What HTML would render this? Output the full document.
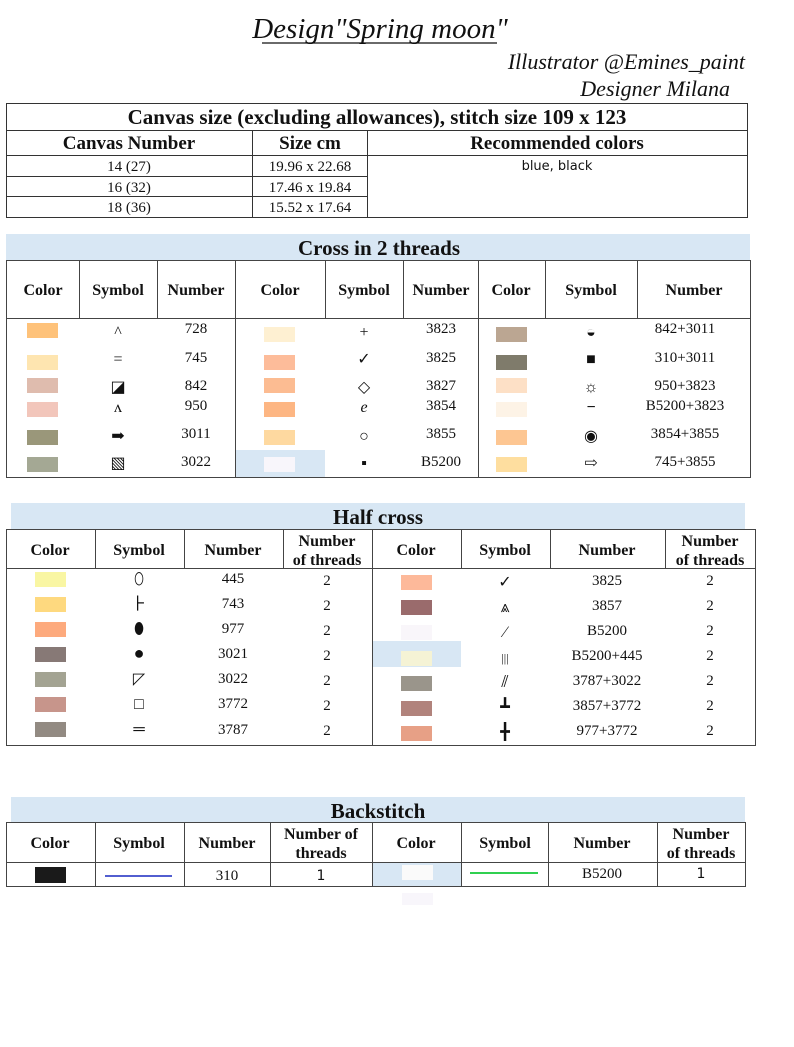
<!DOCTYPE html>
<html><head><meta charset="utf-8"><style>
html,body{margin:0;padding:0;background:#fff;}
svg{display:block;}
text{font-family:"Liberation Serif","DejaVu Serif",serif;fill:#111;}
.s{font-family:"DejaVu Sans",sans-serif;}
.h{font-weight:bold;}
</style></head><body>
<svg width="794" height="1047" viewBox="0 0 794 1047" xmlns="http://www.w3.org/2000/svg">
<text x="380" y="38" font-size="29" font-style="italic" text-anchor="middle">Design"Spring moon"</text>
<line x1="262" y1="43" x2="497" y2="43" stroke="#111" stroke-width="1.3"/>
<text x="745" y="69" font-size="22" font-style="italic" text-anchor="end">Illustrator  @Emines_paint</text>
<text x="730" y="96" font-size="22" font-style="italic" text-anchor="end">Designer Milana</text>

<g stroke="#333" stroke-width="1" fill="none">
<rect x="6.5" y="103.5" width="741" height="114"/>
<line x1="6" y1="130.5" x2="747" y2="130.5"/>
<line x1="6" y1="155.5" x2="747" y2="155.5"/>
<line x1="6" y1="176.5" x2="367" y2="176.5"/>
<line x1="6" y1="196.5" x2="367" y2="196.5"/>
<line x1="252.5" y1="130" x2="252.5" y2="217"/>
<line x1="367.5" y1="130" x2="367.5" y2="217"/>
</g>
<text x="377" y="124" font-size="21" class="h" text-anchor="middle">Canvas size (excluding allowances), stitch size 109 x 123</text>
<text x="129" y="149" font-size="19" class="h" text-anchor="middle">Canvas Number</text>
<text x="310" y="149" font-size="19" class="h" text-anchor="middle">Size cm</text>
<text x="557" y="149" font-size="19" class="h" text-anchor="middle">Recommended colors</text>
<text x="557" y="170" font-size="13" class="s" text-anchor="middle">blue, black</text>
<g font-size="15" text-anchor="middle">
<text x="129" y="171">14 (27)</text><text x="310" y="171">19.96 x 22.68</text>
<text x="129" y="192">16 (32)</text><text x="310" y="192">17.46 x 19.84</text>
<text x="129" y="212">18 (36)</text><text x="310" y="212">15.52 x 17.64</text>
</g>

<rect x="6" y="234" width="744" height="26" fill="#d8e7f4"/>
<text x="379" y="255" font-size="21" class="h" text-anchor="middle">Cross in 2 threads</text>
<rect x="235" y="450" width="90" height="28" fill="#d8e7f4"/>
<g stroke="#444" stroke-width="1" fill="none">
<rect x="6.5" y="260.5" width="744" height="217"/>
<line x1="6" y1="318.5" x2="751" y2="318.5"/>
<line x1="79.5" y1="260" x2="79.5" y2="318"/>
<line x1="157.5" y1="260" x2="157.5" y2="318"/>
<line x1="235.5" y1="260" x2="235.5" y2="478"/>
<line x1="325.5" y1="260" x2="325.5" y2="318"/>
<line x1="403.5" y1="260" x2="403.5" y2="318"/>
<line x1="478.5" y1="260" x2="478.5" y2="478"/>
<line x1="545.5" y1="260" x2="545.5" y2="318"/>
<line x1="637.5" y1="260" x2="637.5" y2="318"/>
</g>
<g font-size="16" class="h" text-anchor="middle">
<text x="43" y="295">Color</text><text x="118" y="295">Symbol</text><text x="196" y="295">Number</text>
<text x="280" y="295">Color</text><text x="364" y="295">Symbol</text><text x="441" y="295">Number</text>
<text x="511" y="295">Color</text><text x="591" y="295">Symbol</text><text x="694" y="295">Number</text>
</g>
<g>
<rect x="27" y="323" width="31" height="15" fill="#fec27a"/>
<rect x="27" y="355" width="31" height="15" fill="#fee5b0"/>
<rect x="27" y="378" width="31" height="15" fill="#dfbcae"/>
<rect x="27" y="402" width="31" height="15" fill="#f2c6bb"/>
<rect x="27" y="430" width="31" height="15" fill="#9a977a"/>
<rect x="27" y="457" width="31" height="15" fill="#a4a894"/>
<rect x="264" y="327" width="31" height="15" fill="#fef0d2"/>
<rect x="264" y="355" width="31" height="15" fill="#fdbc9a"/>
<rect x="264" y="378" width="31" height="15" fill="#fcbc92"/>
<rect x="264" y="402" width="31" height="15" fill="#fdb683"/>
<rect x="264" y="430" width="31" height="15" fill="#fed9a0"/>
<rect x="264" y="457" width="31" height="15" fill="#f8f6fb"/>
<rect x="496" y="327" width="31" height="15" fill="#bba692"/>
<rect x="496" y="355" width="31" height="15" fill="#7f7b6b"/>
<rect x="496" y="378" width="31" height="15" fill="#fde0c6"/>
<rect x="496" y="402" width="31" height="15" fill="#fdf3e6"/>
<rect x="496" y="430" width="31" height="15" fill="#fdc692"/>
<rect x="496" y="457" width="31" height="15" fill="#fede9f"/>
</g>
<g font-size="16" class="s" text-anchor="middle">
<text x="118" y="337">^</text><text x="118" y="364">=</text><text x="118" y="392">◪</text><text x="118" y="412">ʌ</text><text x="118" y="441" font-weight="bold">➡</text><text x="118" y="468">▧</text>
<text x="364" y="337">+</text><text x="364" y="364">✓</text><text x="364" y="392">◇</text><text x="364" y="412" font-style="italic">e</text><text x="364" y="441">○</text><text x="364" y="468">▪</text>
<text x="591" y="337">◒</text><text x="591" y="364">■</text><text x="591" y="392">☼</text><text x="591" y="412" font-weight="bold">−</text><text x="591" y="441">◉</text><text x="591" y="468">⇨</text>
</g>
<g font-size="15" text-anchor="middle">
<text x="196" y="333">728</text><text x="196" y="362">745</text><text x="196" y="390">842</text><text x="196" y="410">950</text><text x="196" y="438">3011</text><text x="196" y="466">3022</text>
<text x="441" y="333">3823</text><text x="441" y="362">3825</text><text x="441" y="390">3827</text><text x="441" y="410">3854</text><text x="441" y="438">3855</text><text x="441" y="466">B5200</text>
<text x="685" y="333">842+3011</text><text x="685" y="362">310+3011</text><text x="685" y="390">950+3823</text><text x="685" y="410">B5200+3823</text><text x="685" y="438">3854+3855</text><text x="685" y="466">745+3855</text>
</g>

<rect x="11" y="503" width="734" height="26" fill="#d8e7f4"/>
<text x="378" y="524" font-size="21" class="h" text-anchor="middle">Half cross</text>
<rect x="372" y="641" width="89" height="26" fill="#d8e7f4"/>
<g stroke="#444" stroke-width="1" fill="none">
<rect x="6.5" y="529.5" width="749" height="216"/>
<line x1="6" y1="568.5" x2="755" y2="568.5"/>
<line x1="95.5" y1="529" x2="95.5" y2="568"/>
<line x1="184.5" y1="529" x2="184.5" y2="568"/>
<line x1="283.5" y1="529" x2="283.5" y2="568"/>
<line x1="372.5" y1="529" x2="372.5" y2="745"/>
<line x1="461.5" y1="529" x2="461.5" y2="568"/>
<line x1="550.5" y1="529" x2="550.5" y2="568"/>
<line x1="665.5" y1="529" x2="665.5" y2="568"/>
</g>
<g font-size="16" class="h" text-anchor="middle">
<text x="50" y="555">Color</text><text x="139" y="555">Symbol</text><text x="233" y="555">Number</text>
<text x="327" y="546">Number</text><text x="327" y="565">of threads</text>
<text x="416" y="555">Color</text><text x="505" y="555">Symbol</text><text x="607" y="555">Number</text>
<text x="710" y="546">Number</text><text x="710" y="565">of threads</text>
</g>
<g>
<rect x="35" y="572" width="31" height="15" fill="#f9f6a3"/>
<rect x="35" y="597" width="31" height="15" fill="#fed97f"/>
<rect x="35" y="622" width="31" height="15" fill="#fdaa7d"/>
<rect x="35" y="647" width="31" height="15" fill="#877976"/>
<rect x="35" y="672" width="31" height="15" fill="#a3a392"/>
<rect x="35" y="697" width="31" height="15" fill="#c7958b"/>
<rect x="35" y="722" width="31" height="15" fill="#928a82"/>
<rect x="401" y="575" width="31" height="15" fill="#fdb99a"/>
<rect x="401" y="600" width="31" height="15" fill="#9a6b6c"/>
<rect x="401" y="625" width="31" height="15" fill="#f9f6fa"/>
<rect x="401" y="651" width="31" height="15" fill="#f5f3d5"/>
<rect x="401" y="676" width="31" height="15" fill="#9a958b"/>
<rect x="401" y="701" width="31" height="15" fill="#b1837c"/>
<rect x="401" y="726" width="31" height="15" fill="#e7a086"/>
</g>
<g font-size="16" class="s" text-anchor="middle">
<text x="139" y="584">⬯</text><text x="139" y="609">⺊</text><text x="139" y="634">⬮</text><text x="139" y="659" font-size="18">●</text><text x="139" y="684">◸</text><text x="139" y="709">□</text><text x="139" y="734" font-weight="bold">═</text>
<text x="505" y="587">✓</text><text x="505" y="612">⩓</text><text x="505" y="637">⁄</text><text x="505" y="662" font-size="12">|||</text><text x="505" y="687">⫽</text><text x="505" y="712" font-weight="bold">┻</text><text x="505" y="737" font-weight="bold">╋</text>
</g>
<g font-size="15" text-anchor="middle">
<text x="233" y="583">445</text><text x="233" y="608">743</text><text x="233" y="633">977</text><text x="233" y="658">3021</text><text x="233" y="683">3022</text><text x="233" y="708">3772</text><text x="233" y="734">3787</text>
<text x="327" y="585">2</text><text x="327" y="610">2</text><text x="327" y="635">2</text><text x="327" y="660">2</text><text x="327" y="685">2</text><text x="327" y="710">2</text><text x="327" y="735">2</text>
<text x="607" y="585">3825</text><text x="607" y="610">3857</text><text x="607" y="635">B5200</text><text x="607" y="660">B5200+445</text><text x="607" y="685">3787+3022</text><text x="607" y="710">3857+3772</text><text x="607" y="735">977+3772</text>
<text x="710" y="585">2</text><text x="710" y="610">2</text><text x="710" y="635">2</text><text x="710" y="660">2</text><text x="710" y="685">2</text><text x="710" y="710">2</text><text x="710" y="735">2</text>
</g>

<rect x="11" y="797" width="734" height="25" fill="#d8e7f4"/>
<text x="378" y="818" font-size="21" class="h" text-anchor="middle">Backstitch</text>
<rect x="372" y="862" width="89" height="24" fill="#d8e7f4"/>
<g stroke="#444" stroke-width="1" fill="none">
<rect x="6.5" y="822.5" width="739" height="64"/>
<line x1="6" y1="862.5" x2="745" y2="862.5"/>
<line x1="95.5" y1="822" x2="95.5" y2="886"/>
<line x1="184.5" y1="822" x2="184.5" y2="886"/>
<line x1="270.5" y1="822" x2="270.5" y2="886"/>
<line x1="372.5" y1="822" x2="372.5" y2="886"/>
<line x1="461.5" y1="822" x2="461.5" y2="886"/>
<line x1="548.5" y1="822" x2="548.5" y2="886"/>
<line x1="657.5" y1="822" x2="657.5" y2="886"/>
</g>
<g font-size="16" class="h" text-anchor="middle">
<text x="50" y="848">Color</text><text x="139" y="848">Symbol</text><text x="227" y="848">Number</text>
<text x="321" y="839">Number of</text><text x="321" y="858">threads</text>
<text x="416" y="848">Color</text><text x="505" y="848">Symbol</text><text x="602" y="848">Number</text>
<text x="701" y="839">Number</text><text x="701" y="858">of threads</text>
</g>
<rect x="35" y="867" width="31" height="16" fill="#1a1a1a"/>
<line x1="105" y1="876" x2="172" y2="876" stroke="#1828c0" stroke-width="1.5"/>
<rect x="402" y="865" width="31" height="15" fill="#fafafa"/>
<rect x="402" y="893" width="31" height="12" fill="#f8f6fb"/>
<line x1="470" y1="873" x2="538" y2="873" stroke="#30d050" stroke-width="2"/>
<g font-size="15" text-anchor="middle">
<text x="227" y="880">310</text><text x="321" y="880" class="s" font-size="14">1</text>
<text x="602" y="878">B5200</text><text x="701" y="878" class="s" font-size="14">1</text>
</g>
</svg>
</body></html>
